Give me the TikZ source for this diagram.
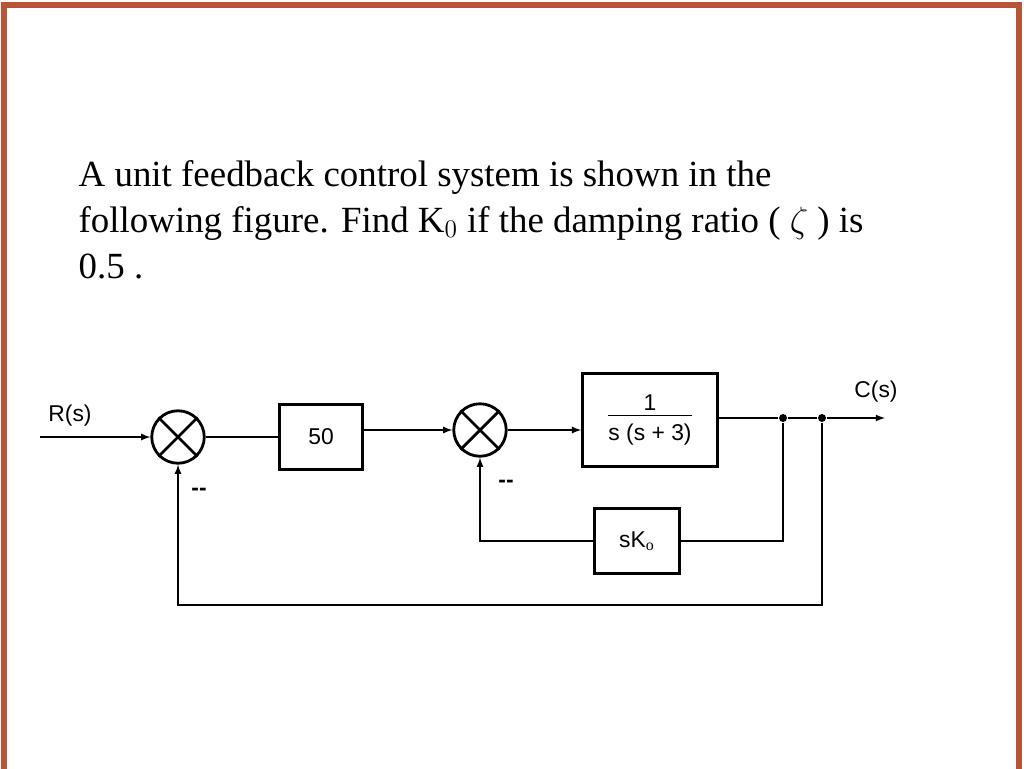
\documentclass[tikz,border=0pt]{standalone}
\usepackage{fontspec}
\setmainfont{Liberation Serif}
\newfontfamily\diagfont{Liberation Sans}
\usetikzlibrary{positioning}
\definecolor{myframe}{RGB}{185,85,55}
\begin{document}
\begin{tikzpicture}[x=0.02cm,y=-0.02cm,thick,>=latex,
  blk/.style={draw,line width=1.6pt,minimum height=1.3cm,inner sep=2pt,font=\diagfont\fontsize{13}{15}\selectfont},
  sumnode/.style={draw,circle,line width=1.6pt,minimum size=1.05cm,inner sep=0pt},
  lbl/.style={font=\diagfont\fontsize{13}{15}\selectfont},
  dot/.style={circle,fill,inner sep=1.6pt}]
  \useasboundingbox (0,0) rectangle (1024,768);
  \fill[white] (0,0) rectangle (1024,768);
  \draw[myframe,line width=3pt] (4,800) -- (4,5) -- (1019,5) -- (1019,800);

  % question text
  \node[anchor=north west,align=left,inner sep=0pt,font=\fontsize{21}{26}\selectfont] (q) at (78,160)
    {A unit feedback control system is shown in the\\
     following figure. Find K$_0$ if the damping ratio ( $\zeta$ ) is\\
     0.5 .};

  % blocks
  \node[sumnode] (s1) at (178,437) {};
  \node[blk,minimum width=1.65cm] (g1) at (321,437) {50};
  \node[sumnode] (s2) at (480,430) {};
  \node[blk,minimum width=2.7cm,minimum height=1.85cm] (g2) at (650,420)
    {\begin{tabular}{@{}c@{}}1\\[-2pt]\hline\rule{0pt}{14pt}s (s + 3)\end{tabular}};
  \node[blk,minimum width=1.7cm] (h1) at (637,541) {sK$_\mathrm{o}$};
  \foreach \s in {s1,s2}
    \draw[line width=1.6pt] (\s.45) -- (\s.225) (\s.135) -- (\s.315);

  \node[dot] (d1) at (783,418) {};
  \node[dot] (d2) at (822,418) {};
  \coordinate (rin) at (40,437);
  \coordinate (cout) at (885,418);
  \node[lbl] (r) at (70,416) {R(s)};
  \node[lbl] (c) at (876,392) {C(s)};
  \node[lbl] (m1) at (199,492) {\textbf{--}};
  \node[lbl] (m2) at (506,484) {\textbf{--}};

  % forward path
  \draw[->] (rin) -- (s1);
  \draw (s1) -- (g1);
  \draw[->] (g1.east |- s2) -- (s2);
  \draw[->] (s2) -- (s2 -| g2.west);
  \draw (g2.east |- d1) -- (d1) -- (d2);
  \draw[->] (d2) -- (cout);

  % feedback paths
  \draw (d1) |- (h1);
  \draw[->] (h1) -| (s2);
  \draw[->] (d2) |- (178,605) -- (s1);
\end{tikzpicture}
\end{document}
